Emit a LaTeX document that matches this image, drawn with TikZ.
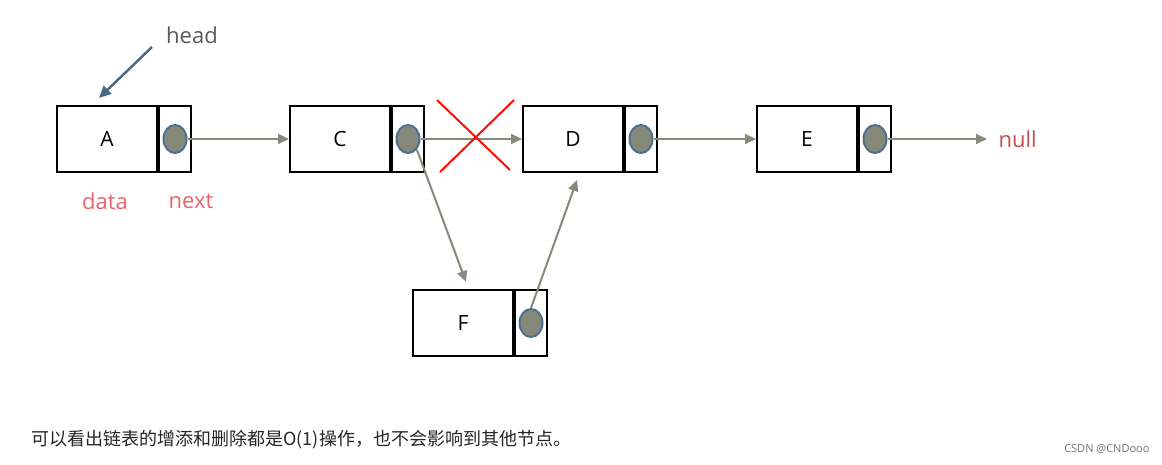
\documentclass[tikz,border=0pt]{standalone}
\usepackage{fontspec}
\setmainfont{Open Sans}
\newfontfamily\cjk{Noto Sans CJK SC}
\usetikzlibrary{arrows.meta,shapes.geometric}
\definecolor{arr}{HTML}{858A7A}
\definecolor{dot}{HTML}{868979}
\definecolor{dotb}{HTML}{4F6F8F}
\definecolor{hd}{HTML}{4A6A85}
\definecolor{lbl}{HTML}{E8636B}
\definecolor{nul}{HTML}{C0504D}
\tikzset{
 cell/.style={draw=black,line width=2pt,minimum height=66pt,inner sep=0pt,font=\fontsize{21}{21}\selectfont},
 dotn/.style={ellipse,fill=dot,draw=dotb,line width=2pt,minimum width=23pt,minimum height=28pt,inner sep=0pt},
 link/.style={draw=arr,line width=2pt,-{Triangle[length=11pt,width=10pt]}},
 lab/.style={font=\fontsize{22}{22}\selectfont},
}
\begin{document}
\begin{tikzpicture}[x=1pt,y=-1pt]
\useasboundingbox (0,0) rectangle (1162,465);
\fill[white] (0,0) rectangle (1162,465);
\foreach \n/\l/\x/\y in {A/A/56/139,C/C/289/139,D/D/522/139,E/E/756/139,F/F/412/323}{
  \node[cell,minimum width=100pt,anchor=west] (\n d) at (\x,\y) {\l};
  \node[cell,minimum width=32pt,anchor=west] (\n n) at (\n d.east) {};
  \node[dotn] (\n c) at (\n n.center) {};
}
\coordinate (nullp) at (987,139);
\node[text=nul,lab,anchor=west] (null) at (995,139) {null};
\draw[link] (Ac.east) -- (Cd.west);
\draw[link] (Cc.east) -- (Dd.west);
\draw[link] (Dc.east) -- (Ed.west);
\draw[link] (Ec.east) -- (nullp);
\draw[link] (Cc.south east) -- (466,282);
\draw[link] (Fc.north) -- (577,180);
\draw[red!90!orange,line width=2pt] (437,100) -- (510,170) (514,100) -- (440,172);
\node[text=black!65,lab] (head) at (192,35) {head};
\draw[hd,line width=2.5pt,-{Triangle[length=12pt,width=11pt]}] (152,47) -- (99,98);
\node[text=lbl,lab] (data) at (105,201) {data};
\node[text=lbl,lab] (next) at (191,201) {next};
\node[anchor=west,font=\cjk\fontsize{18}{18}\selectfont,text=black!85] (cap) at (28,440) {可以看出链表的增添和删除都是O(1)操作，也不会影响到其他节点。};
\node[anchor=east,font=\fontsize{11}{11}\selectfont,text=black!55] (wm) at (1153,449) {CSDN @CNDooo};
\end{tikzpicture}
\end{document}
